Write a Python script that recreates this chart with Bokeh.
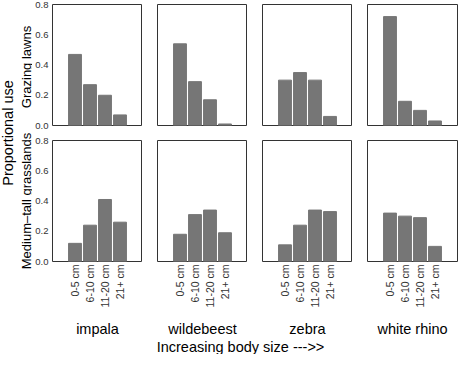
import math
from bokeh.plotting import figure
from bokeh.models import FactorRange, Range1d, FixedTicker, NumeralTickFormatter, Label
from bokeh.layouts import row, column
from bokeh.embed import file_html
from bokeh.resources import INLINE

# ---------------- data ----------------
sizes = ["0-5 cm", "6-10 cm", "11-20 cm", "21+ cm"]
species = ["impala", "wildebeest", "zebra", "white rhino"]
habitats = ["Grazing lawns", "Medium\u2013tall grasslands"]
y_ticks = [0.0, 0.2, 0.4, 0.6, 0.8]

lawns_impala = [0.47, 0.27, 0.20, 0.07]
lawns_wildebeest = [0.54, 0.29, 0.17, 0.01]
lawns_zebra = [0.30, 0.35, 0.30, 0.06]
lawns_rhino = [0.72, 0.16, 0.10, 0.03]

tall_impala = [0.12, 0.24, 0.41, 0.26]
tall_wildebeest = [0.18, 0.31, 0.34, 0.19]
tall_zebra = [0.11, 0.24, 0.34, 0.33]
tall_rhino = [0.32, 0.30, 0.29, 0.10]

lawns = [lawns_impala, lawns_wildebeest, lawns_zebra, lawns_rhino]
tall = [tall_impala, tall_wildebeest, tall_zebra, tall_rhino]

y_title = "Proportional use"
x_title = "Increasing body size --->>"

# ---------------- style ----------------
FONT = "Liberation Sans"
BAR = "#767676"
FRAME_W, FRAME_H = 90, 121
GAP = 15
LEFT0 = 20
TOP0 = 4          # space above the top row
MID_A = 6         # space below the top row frames
MID_B = 9         # space above the bottom row frames
BOTTOM = 54
GUTTER = 32


def panel(values, r, c):
    left = LEFT0 if c == 0 else GAP
    right = 1 if c == 3 else 0
    top = TOP0 if r == 0 else MID_B
    bottom = MID_A if r == 0 else BOTTOM
    p = figure(width=FRAME_W + left + right, height=FRAME_H + top + bottom,
               x_range=FactorRange(factors=sizes, range_padding=0.5),
               y_range=Range1d(0, 0.8),
               x_axis_location="below" if r == 1 else None,
               y_axis_location="left" if c == 0 else None,
               toolbar_location=None, output_backend="svg",
               min_border_left=left, min_border_right=right,
               min_border_top=top, min_border_bottom=bottom)
    p.vbar(x=sizes, top=values, width=0.86, color=BAR)
    p.grid.visible = False
    p.outline_line_color = "#333333"
    p.outline_line_width = 1
    p.background_fill_color = "white"
    p.border_fill_color = "white"
    for ax in p.yaxis:
        ax.ticker = FixedTicker(ticks=y_ticks)
        ax.formatter = NumeralTickFormatter(format="0.0")
        ax.major_label_text_font = FONT
        ax.major_label_text_font_size = "9.5px"
        ax.major_label_text_color = "#333333"
        ax.major_tick_out = 0
        ax.major_tick_in = 0
        ax.minor_tick_out = 0
        ax.minor_tick_in = 0
        ax.axis_line_color = None
        ax.major_label_standoff = 4
    for ax in p.xaxis:
        ax.major_label_orientation = math.pi / 2
        ax.major_label_text_font = FONT
        ax.major_label_text_font_size = "10.5px"
        ax.major_label_text_color = "#333333"
        ax.major_tick_out = 0
        ax.major_tick_in = 0
        ax.axis_line_color = None
        ax.major_label_standoff = 3
    return p


top_row = [panel(v, 0, i) for i, v in enumerate(lawns)]
bottom_row = [panel(v, 1, i) for i, v in enumerate(tall)]

top_h = TOP0 + FRAME_H + MID_A
bot_h = MID_B + FRAME_H + BOTTOM
rows_h = top_h + bot_h

# left gutter with the y title and the habitat strip labels
g = figure(width=GUTTER, height=rows_h, x_range=Range1d(0, GUTTER), y_range=Range1d(rows_h, 0),
           x_axis_location=None, y_axis_location=None, toolbar_location=None,
           output_backend="svg", min_border=0)
g.grid.visible = False
g.outline_line_color = None
top_c = TOP0 + FRAME_H / 2
bot_c = top_h + MID_B + FRAME_H / 2
g.add_layout(Label(x=7.5, y=(top_c + bot_c) / 2, text=y_title, angle=math.pi / 2,
                   text_align="center", text_baseline="middle", text_font=FONT,
                   text_font_size="14.5px", text_color="black"))
for hab, cy in zip(habitats, [top_c + 2, bot_c]):
    g.add_layout(Label(x=25.5, y=cy, text=hab, angle=math.pi / 2,
                       text_align="center", text_baseline="middle", text_font=FONT,
                       text_font_size="13px", text_color="black"))

# bottom strip with species names and the x title
total_w = sum(p.width for p in top_row)
BH = 39
b = figure(width=total_w, height=BH, x_range=Range1d(0, total_w), y_range=Range1d(BH, 0),
           x_axis_location=None, y_axis_location=None, toolbar_location=None,
           output_backend="svg", min_border=0)
b.grid.visible = False
b.outline_line_color = None
xpos = 0
for i, (sp, p) in enumerate(zip(species, top_row)):
    left = LEFT0 if i == 0 else GAP
    cx = xpos + left + FRAME_W / 2
    b.add_layout(Label(x=cx, y=13, text=sp, text_align="center", text_baseline="middle",
                       text_font=FONT, text_font_size="14.5px", text_color="black"))
    xpos += p.width
b.add_layout(Label(x=208, y=31, text=x_title, text_align="center", text_baseline="middle",
                   text_font=FONT, text_font_size="14.5px", text_color="black"))

layout = row(g, column(row(*top_row), row(*bottom_row), b))

open("out.html", "w").write(file_html(layout, INLINE))
